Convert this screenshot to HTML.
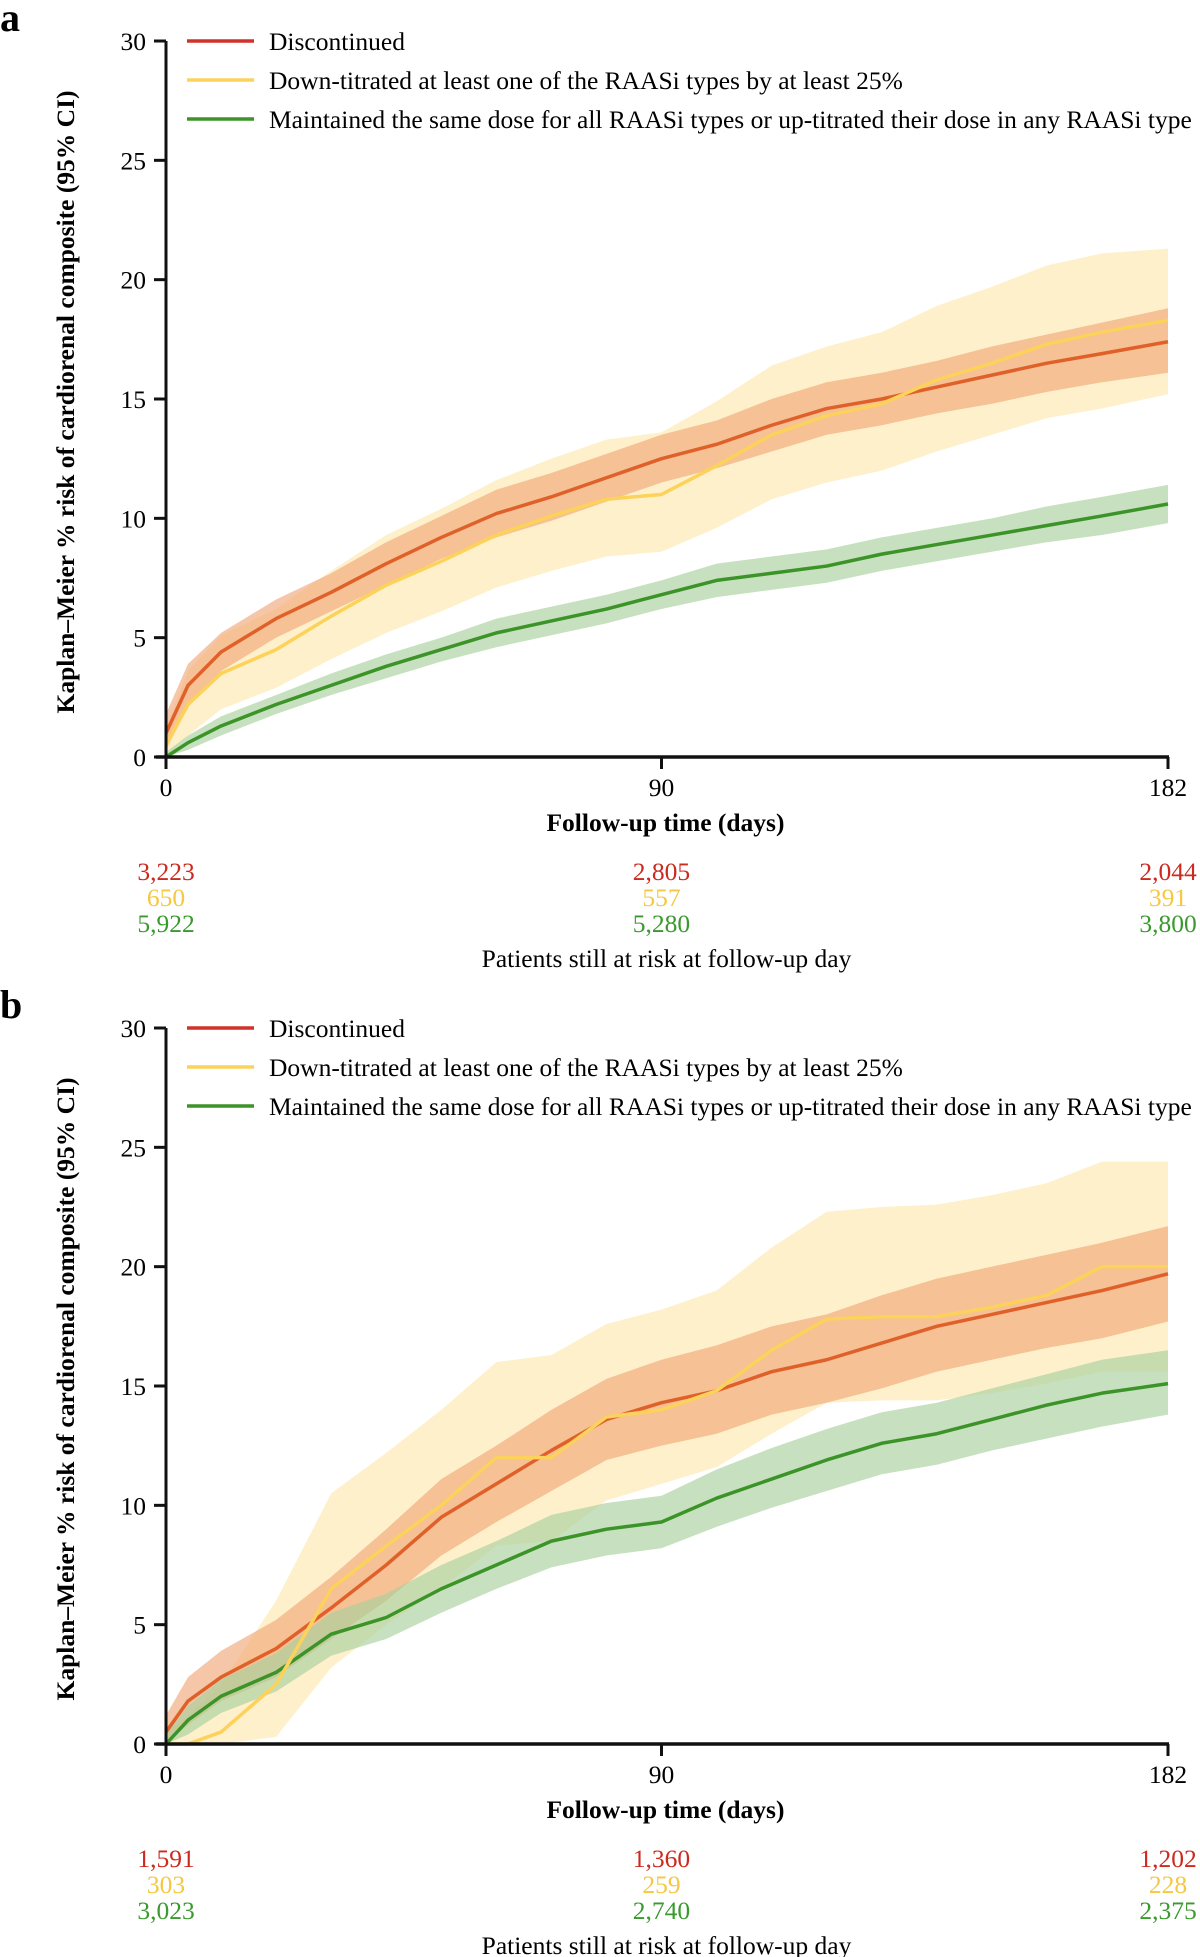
<!DOCTYPE html>
<html><head><meta charset="utf-8"><style>
body{margin:0;background:#fff}
svg{display:block;font-family:"Liberation Serif",serif}
</style></head><body>
<svg id="fig" width="1200" height="1957" viewBox="0 0 1200 1957"></svg>
<script>
// ===== data =====
const days = [0,4,10,20,30,40,50,60,70,80,90,100,110,120,130,140,150,160,170,182];
const yTicks = [0,5,10,15,20,25,30];
const xTicks = [0,90,182];
const seriesNames = ["Discontinued","Down-titrated at least one of the RAASi types by at least 25%","Maintained the same dose for all RAASi types or up-titrated their dose in any RAASi type"];

// panel a
const aRed    = [1.0,3.0,4.4,5.8,6.9,8.1,9.2,10.2,10.9,11.7,12.5,13.1,13.9,14.6,15.0,15.5,16.0,16.5,16.9,17.4];
const aRedLo  = [0.3,2.1,3.6,5.0,6.1,7.2,8.3,9.2,9.9,10.7,11.5,12.1,12.8,13.5,13.9,14.4,14.8,15.3,15.7,16.1];
const aRedHi  = [1.8,3.9,5.2,6.6,7.7,9.0,10.1,11.2,11.9,12.7,13.5,14.1,15.0,15.7,16.1,16.6,17.2,17.7,18.2,18.8];
const aYel    = [0.5,2.2,3.5,4.5,5.9,7.2,8.2,9.3,10.1,10.8,11.0,12.2,13.5,14.3,14.8,15.8,16.5,17.3,17.8,18.3];
const aYelLo  = [0.0,0.9,2.0,2.9,4.1,5.2,6.1,7.1,7.8,8.4,8.6,9.6,10.8,11.5,12.0,12.8,13.5,14.2,14.6,15.2];
const aYelHi  = [1.2,3.6,5.1,6.2,7.8,9.3,10.4,11.6,12.5,13.3,13.6,14.9,16.4,17.2,17.8,18.9,19.7,20.6,21.1,21.3];
const aGrn    = [0.0,0.6,1.3,2.2,3.0,3.8,4.5,5.2,5.7,6.2,6.8,7.4,7.7,8.0,8.5,8.9,9.3,9.7,10.1,10.6];
const aGrnLo  = [0.0,0.3,0.9,1.8,2.6,3.3,4.0,4.6,5.1,5.6,6.2,6.7,7.0,7.3,7.8,8.2,8.6,9.0,9.3,9.8];
const aGrnHi  = [0.2,0.9,1.7,2.6,3.5,4.3,5.0,5.8,6.3,6.8,7.4,8.1,8.4,8.7,9.2,9.6,10.0,10.5,10.9,11.4];
const aRisk   = [["3,223","2,805","2,044"],["650","557","391"],["5,922","5,280","3,800"]];

// panel b
const bRed    = [0.5,1.8,2.8,4.0,5.7,7.5,9.5,10.9,12.3,13.6,14.3,14.8,15.6,16.1,16.8,17.5,18.0,18.5,19.0,19.7];
const bRedLo  = [0.0,0.8,1.8,2.8,4.4,6.0,7.9,9.3,10.6,11.9,12.5,13.0,13.8,14.3,14.9,15.6,16.1,16.6,17.0,17.7];
const bRedHi  = [1.2,2.8,3.9,5.2,7.0,9.0,11.1,12.5,14.0,15.3,16.1,16.7,17.5,18.0,18.8,19.5,20.0,20.5,21.0,21.7];
const bYel    = [0.0,0.0,0.5,2.5,6.5,8.3,10.0,12.0,12.0,13.7,14.0,14.8,16.5,17.8,17.9,17.9,18.3,18.8,20.0,20.0];
const bYelLo  = [0.0,0.0,0.0,0.3,3.2,5.0,6.5,8.3,8.5,10.2,10.9,11.6,13.0,14.3,14.4,14.4,14.7,15.1,15.6,15.6];
const bYelHi  = [0.5,1.2,2.5,6.0,10.5,12.2,14.0,16.0,16.3,17.6,18.2,19.0,20.8,22.3,22.5,22.6,23.0,23.5,24.4,24.4];
const bGrn    = [0.0,1.0,2.0,3.0,4.6,5.3,6.5,7.5,8.5,9.0,9.3,10.3,11.1,11.9,12.6,13.0,13.6,14.2,14.7,15.1];
const bGrnLo  = [0.0,0.4,1.3,2.2,3.7,4.4,5.5,6.5,7.4,7.9,8.2,9.1,9.9,10.6,11.3,11.7,12.3,12.8,13.3,13.8];
const bGrnHi  = [0.4,1.6,2.7,3.8,5.5,6.3,7.5,8.5,9.6,10.1,10.4,11.5,12.4,13.2,13.9,14.3,14.9,15.5,16.1,16.5];
const bRisk   = [["1,591","1,360","1,202"],["303","259","228"],["3,023","2,740","2,375"]];

// ===== drawing =====
const NS="http://www.w3.org/2000/svg";
const svg=document.getElementById('fig');
const X0=166, X1=1168, FS=25.5;
function mk(tag,attrs,parent){const e=document.createElementNS(NS,tag);for(const k in attrs)e.setAttribute(k,attrs[k]);(parent||svg).appendChild(e);return e;}
function pts(xs,ys,sx,sy){return xs.map((x,i)=>[sx(x),sy(ys[i])]);}

const lineCols=["#e0602a","#fcd25a","#3c9428"];
const bandCols=["#f0a878","#fde6a8","#a9d19e"];
const bandOp=[0.65,0.6,0.65];
const legCols=["#d0322a","#fcd25a","#3c9428"];
const riskCols=["#cc2a1f","#f5c842","#3a9a2e"];

function panel(letter,top,vals,risk){
  const Yt=top, Yb=top+716;
  const sx=d=>X0+(d/182)*(X1-X0);
  const sy=v=>Yb-(v/30)*(Yb-Yt);
  const g=mk('g',{});
  
  
  const lab=mk('text',{x:0,y:top-10,'font-size':40,'font-weight':'bold'},g);
  lab.textContent=letter;
  
  
  [1,0,2].forEach(s=>{
    const lo=pts(days,vals[s][1],sx,sy), hi=pts(days,vals[s][2],sx,sy).reverse();
    const poly=mk('polygon',{points:lo.concat(hi).map(p=>p.join(',')).join(' '),fill:bandCols[s],'fill-opacity':bandOp[s]},g);
    
    
  });
  [2,0,1].forEach(s=>{
    const pl=mk('polyline',{points:pts(days,vals[s][0],sx,sy).map(p=>p.join(',')).join(' '),fill:'none',stroke:lineCols[s],'stroke-width':3.5,'stroke-linejoin':'round'},g);
    
    
  });
  const ya=mk('line',{x1:X0,y1:Yt,x2:X0,y2:Yb+2,stroke:'#111','stroke-width':3},g);
  
  
  const xa=mk('line',{x1:X0-10,y1:Yb,x2:X1+1,y2:Yb,stroke:'#111','stroke-width':3.5},g);
  
  
  yTicks.forEach(t=>{
    mk('line',{x1:X0-12,y1:sy(t),x2:X0,y2:sy(t),stroke:'#111','stroke-width':3},g);
    const tx=mk('text',{x:X0-20,y:sy(t)+9,'font-size':FS,'text-anchor':'end'},g);
    tx.textContent=t;
    
    
  });
  xTicks.forEach((t,i)=>{
    mk('line',{x1:sx(t),y1:Yb,x2:sx(t),y2:Yb+12,stroke:'#111','stroke-width':3},g);
    const tx=mk('text',{x:sx(t),y:Yb+39,'font-size':FS,'text-anchor':'middle'},g);
    tx.textContent=t;
    
    
    for(let s=0;s<3;s++){
      const r=mk('text',{x:sx(t),y:Yb+123+s*26,'font-size':FS,'text-anchor':'middle',fill:riskCols[s]},g);
      r.textContent=risk[s][i];
      
      
    }
  });
  const xt=mk('text',{x:sx(90)+4,y:Yb+74,'font-size':FS,'font-weight':'bold','text-anchor':'middle'},g);
  xt.textContent='Follow-up time (days)';
  
  
  const rt=mk('text',{x:sx(90)+5,y:Yb+210,'font-size':FS,'text-anchor':'middle'},g);
  rt.textContent='Patients still at risk at follow-up day';
  
  
  const cy=(Yt+Yb)/2+3;
  const yt=mk('text',{x:74,y:cy,'font-size':FS,'font-weight':'bold','text-anchor':'middle',transform:`rotate(-90 74 ${cy})`},g);
  yt.textContent='Kaplan–Meier % risk of cardiorenal composite (95% CI)';
  
  
  for(let s=0;s<3;s++){
    const ly=Yt+39*s;
    const ll=mk('line',{x1:187,y1:ly,x2:254,y2:ly,stroke:legCols[s],'stroke-width':3.5},g);
    
    
    const lt=mk('text',{x:269,y:ly+9,'font-size':FS},g);
    lt.textContent=seriesNames[s];
    
    
  }
}
panel('a',41,[[aRed,aRedLo,aRedHi],[aYel,aYelLo,aYelHi],[aGrn,aGrnLo,aGrnHi]],aRisk);
panel('b',1028,[[bRed,bRedLo,bRedHi],[bYel,bYelLo,bYelHi],[bGrn,bGrnLo,bGrnHi]],bRisk);
</script>
</body></html>
